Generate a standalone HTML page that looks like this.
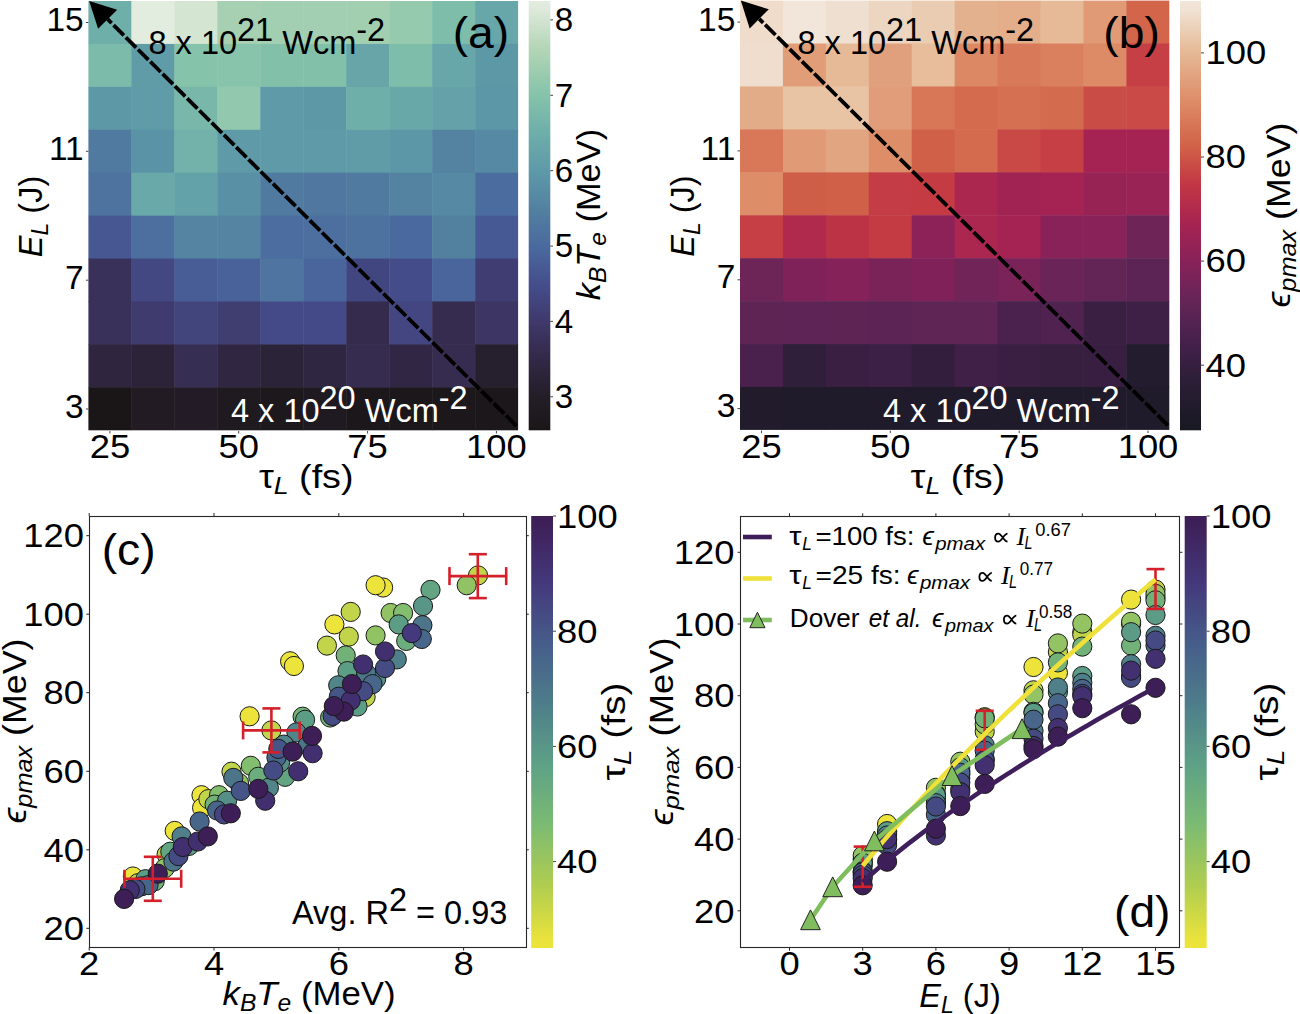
<!DOCTYPE html>
<html><head><meta charset="utf-8"><style>
html,body{margin:0;padding:0;background:#fff;}
svg{display:block;}
text{font-family:"Liberation Sans",sans-serif;}
</style></head><body>
<svg width="1300" height="1014" viewBox="0 0 1300 1014">
<rect width="1300" height="1014" fill="#fff"/>
<rect x="88.40" y="1.00" width="43.47" height="43.43" fill="#6fafaa"/>
<rect x="131.37" y="1.00" width="43.47" height="43.43" fill="#e2ecdf"/>
<rect x="174.34" y="1.00" width="43.47" height="43.43" fill="#d4e5d2"/>
<rect x="217.31" y="1.00" width="43.47" height="43.43" fill="#a7d0b2"/>
<rect x="260.28" y="1.00" width="43.47" height="43.43" fill="#a2cfb1"/>
<rect x="303.25" y="1.00" width="43.47" height="43.43" fill="#a2cfb1"/>
<rect x="346.22" y="1.00" width="43.47" height="43.43" fill="#a3cfb1"/>
<rect x="389.19" y="1.00" width="43.47" height="43.43" fill="#96caae"/>
<rect x="432.16" y="1.00" width="43.47" height="43.43" fill="#7ebdaa"/>
<rect x="475.13" y="1.00" width="42.97" height="43.43" fill="#67a6a9"/>
<rect x="88.40" y="43.93" width="43.47" height="43.43" fill="#7cbbaa"/>
<rect x="131.37" y="43.93" width="43.47" height="43.43" fill="#5f9ca8"/>
<rect x="174.34" y="43.93" width="43.47" height="43.43" fill="#85c3aa"/>
<rect x="217.31" y="43.93" width="43.47" height="43.43" fill="#88c4ab"/>
<rect x="260.28" y="43.93" width="43.47" height="43.43" fill="#82c0aa"/>
<rect x="303.25" y="43.93" width="43.47" height="43.43" fill="#82c0aa"/>
<rect x="346.22" y="43.93" width="43.47" height="43.43" fill="#67a5a9"/>
<rect x="389.19" y="43.93" width="43.47" height="43.43" fill="#7ebdaa"/>
<rect x="432.16" y="43.93" width="43.47" height="43.43" fill="#68a7a9"/>
<rect x="475.13" y="43.93" width="42.97" height="43.43" fill="#5d98a7"/>
<rect x="88.40" y="86.86" width="43.47" height="43.43" fill="#5d98a7"/>
<rect x="131.37" y="86.86" width="43.47" height="43.43" fill="#5f9ca8"/>
<rect x="174.34" y="86.86" width="43.47" height="43.43" fill="#78b7aa"/>
<rect x="217.31" y="86.86" width="43.47" height="43.43" fill="#92c8ad"/>
<rect x="260.28" y="86.86" width="43.47" height="43.43" fill="#5e9aa8"/>
<rect x="303.25" y="86.86" width="43.47" height="43.43" fill="#5d98a7"/>
<rect x="346.22" y="86.86" width="43.47" height="43.43" fill="#6fafaa"/>
<rect x="389.19" y="86.86" width="43.47" height="43.43" fill="#69a8a9"/>
<rect x="432.16" y="86.86" width="43.47" height="43.43" fill="#64a1a9"/>
<rect x="475.13" y="86.86" width="42.97" height="43.43" fill="#5c97a7"/>
<rect x="88.40" y="129.79" width="43.47" height="43.43" fill="#507aa0"/>
<rect x="131.37" y="129.79" width="43.47" height="43.43" fill="#5b93a6"/>
<rect x="174.34" y="129.79" width="43.47" height="43.43" fill="#72b2aa"/>
<rect x="217.31" y="129.79" width="43.47" height="43.43" fill="#5e9aa8"/>
<rect x="260.28" y="129.79" width="43.47" height="43.43" fill="#5e9aa8"/>
<rect x="303.25" y="129.79" width="43.47" height="43.43" fill="#5e9aa8"/>
<rect x="346.22" y="129.79" width="43.47" height="43.43" fill="#5f9ca8"/>
<rect x="389.19" y="129.79" width="43.47" height="43.43" fill="#5c97a7"/>
<rect x="432.16" y="129.79" width="43.47" height="43.43" fill="#5383a1"/>
<rect x="475.13" y="129.79" width="42.97" height="43.43" fill="#5689a3"/>
<rect x="88.40" y="172.72" width="43.47" height="43.43" fill="#4e739f"/>
<rect x="131.37" y="172.72" width="43.47" height="43.43" fill="#6aa9a9"/>
<rect x="174.34" y="172.72" width="43.47" height="43.43" fill="#64a2a9"/>
<rect x="217.31" y="172.72" width="43.47" height="43.43" fill="#5a90a5"/>
<rect x="260.28" y="172.72" width="43.47" height="43.43" fill="#507aa0"/>
<rect x="303.25" y="172.72" width="43.47" height="43.43" fill="#4f77a0"/>
<rect x="346.22" y="172.72" width="43.47" height="43.43" fill="#507aa0"/>
<rect x="389.19" y="172.72" width="43.47" height="43.43" fill="#5383a1"/>
<rect x="432.16" y="172.72" width="43.47" height="43.43" fill="#5689a3"/>
<rect x="475.13" y="172.72" width="42.97" height="43.43" fill="#4b6c9f"/>
<rect x="88.40" y="215.65" width="43.47" height="43.43" fill="#465792"/>
<rect x="131.37" y="215.65" width="43.47" height="43.43" fill="#4c6f9f"/>
<rect x="174.34" y="215.65" width="43.47" height="43.43" fill="#5484a1"/>
<rect x="217.31" y="215.65" width="43.47" height="43.43" fill="#5484a1"/>
<rect x="260.28" y="215.65" width="43.47" height="43.43" fill="#4b6d9f"/>
<rect x="303.25" y="215.65" width="43.47" height="43.43" fill="#4c6f9f"/>
<rect x="346.22" y="215.65" width="43.47" height="43.43" fill="#4d729f"/>
<rect x="389.19" y="215.65" width="43.47" height="43.43" fill="#4a699f"/>
<rect x="432.16" y="215.65" width="43.47" height="43.43" fill="#5281a0"/>
<rect x="475.13" y="215.65" width="42.97" height="43.43" fill="#475994"/>
<rect x="88.40" y="258.58" width="43.47" height="43.43" fill="#393159"/>
<rect x="131.37" y="258.58" width="43.47" height="43.43" fill="#434883"/>
<rect x="174.34" y="258.58" width="43.47" height="43.43" fill="#485d96"/>
<rect x="217.31" y="258.58" width="43.47" height="43.43" fill="#49639a"/>
<rect x="260.28" y="258.58" width="43.47" height="43.43" fill="#4e749f"/>
<rect x="303.25" y="258.58" width="43.47" height="43.43" fill="#49659c"/>
<rect x="346.22" y="258.58" width="43.47" height="43.43" fill="#424680"/>
<rect x="389.19" y="258.58" width="43.47" height="43.43" fill="#444c8a"/>
<rect x="432.16" y="258.58" width="43.47" height="43.43" fill="#49659c"/>
<rect x="475.13" y="258.58" width="42.97" height="43.43" fill="#403d72"/>
<rect x="88.40" y="301.51" width="43.47" height="43.43" fill="#393159"/>
<rect x="131.37" y="301.51" width="43.47" height="43.43" fill="#403b6f"/>
<rect x="174.34" y="301.51" width="43.47" height="43.43" fill="#42447c"/>
<rect x="217.31" y="301.51" width="43.47" height="43.43" fill="#403d71"/>
<rect x="260.28" y="301.51" width="43.47" height="43.43" fill="#444a87"/>
<rect x="303.25" y="301.51" width="43.47" height="43.43" fill="#444a87"/>
<rect x="346.22" y="301.51" width="43.47" height="43.43" fill="#352b4d"/>
<rect x="389.19" y="301.51" width="43.47" height="43.43" fill="#434681"/>
<rect x="432.16" y="301.51" width="43.47" height="43.43" fill="#352c4f"/>
<rect x="475.13" y="301.51" width="42.97" height="43.43" fill="#3d3563"/>
<rect x="88.40" y="344.44" width="43.47" height="43.43" fill="#2f253f"/>
<rect x="131.37" y="344.44" width="43.47" height="43.43" fill="#2c2339"/>
<rect x="174.34" y="344.44" width="43.47" height="43.43" fill="#372e53"/>
<rect x="217.31" y="344.44" width="43.47" height="43.43" fill="#302641"/>
<rect x="260.28" y="344.44" width="43.47" height="43.43" fill="#2b2338"/>
<rect x="303.25" y="344.44" width="43.47" height="43.43" fill="#2f2641"/>
<rect x="346.22" y="344.44" width="43.47" height="43.43" fill="#352c4f"/>
<rect x="389.19" y="344.44" width="43.47" height="43.43" fill="#312744"/>
<rect x="432.16" y="344.44" width="43.47" height="43.43" fill="#352c4f"/>
<rect x="475.13" y="344.44" width="42.97" height="43.43" fill="#261f2d"/>
<rect x="88.40" y="387.37" width="43.47" height="42.93" fill="#1a1618"/>
<rect x="131.37" y="387.37" width="43.47" height="42.93" fill="#221b24"/>
<rect x="174.34" y="387.37" width="43.47" height="42.93" fill="#231c27"/>
<rect x="217.31" y="387.37" width="43.47" height="42.93" fill="#1f1920"/>
<rect x="260.28" y="387.37" width="43.47" height="42.93" fill="#1d181c"/>
<rect x="303.25" y="387.37" width="43.47" height="42.93" fill="#1f1a21"/>
<rect x="346.22" y="387.37" width="43.47" height="42.93" fill="#1c171b"/>
<rect x="389.19" y="387.37" width="43.47" height="42.93" fill="#1b171a"/>
<rect x="432.16" y="387.37" width="43.47" height="42.93" fill="#1b171a"/>
<rect x="475.13" y="387.37" width="42.97" height="42.93" fill="#1b171a"/>
<rect x="740.00" y="0.60" width="43.43" height="43.43" fill="#efdccb"/>
<rect x="782.93" y="0.60" width="43.43" height="43.43" fill="#f2e5d9"/>
<rect x="825.86" y="0.60" width="43.43" height="43.43" fill="#efdfd0"/>
<rect x="868.79" y="0.60" width="43.43" height="43.43" fill="#edd6c1"/>
<rect x="911.72" y="0.60" width="43.43" height="43.43" fill="#eaccb2"/>
<rect x="954.65" y="0.60" width="43.43" height="43.43" fill="#e4b18e"/>
<rect x="997.58" y="0.60" width="43.43" height="43.43" fill="#e4ae8a"/>
<rect x="1040.51" y="0.60" width="43.43" height="43.43" fill="#e6ba97"/>
<rect x="1083.44" y="0.60" width="43.43" height="43.43" fill="#e09a76"/>
<rect x="1126.37" y="0.60" width="42.93" height="43.43" fill="#d2654a"/>
<rect x="740.00" y="43.53" width="43.43" height="43.43" fill="#efdece"/>
<rect x="782.93" y="43.53" width="43.43" height="43.43" fill="#e19c78"/>
<rect x="825.86" y="43.53" width="43.43" height="43.43" fill="#e6ba97"/>
<rect x="868.79" y="43.53" width="43.43" height="43.43" fill="#e1a07d"/>
<rect x="911.72" y="43.53" width="43.43" height="43.43" fill="#e7bd9b"/>
<rect x="954.65" y="43.53" width="43.43" height="43.43" fill="#dc8865"/>
<rect x="997.58" y="43.53" width="43.43" height="43.43" fill="#d87a5a"/>
<rect x="1040.51" y="43.53" width="43.43" height="43.43" fill="#da805f"/>
<rect x="1083.44" y="43.53" width="43.43" height="43.43" fill="#dd8a67"/>
<rect x="1126.37" y="43.53" width="42.93" height="43.43" fill="#c53f45"/>
<rect x="740.00" y="86.46" width="43.43" height="43.43" fill="#e3ac88"/>
<rect x="782.93" y="86.46" width="43.43" height="43.43" fill="#e8c4a5"/>
<rect x="825.86" y="86.46" width="43.43" height="43.43" fill="#e8c4a5"/>
<rect x="868.79" y="86.46" width="43.43" height="43.43" fill="#e19d7a"/>
<rect x="911.72" y="86.46" width="43.43" height="43.43" fill="#d77758"/>
<rect x="954.65" y="86.46" width="43.43" height="43.43" fill="#d46b4e"/>
<rect x="997.58" y="86.46" width="43.43" height="43.43" fill="#d57052"/>
<rect x="1040.51" y="86.46" width="43.43" height="43.43" fill="#d36b4e"/>
<rect x="1083.44" y="86.46" width="43.43" height="43.43" fill="#c94c46"/>
<rect x="1126.37" y="86.46" width="42.93" height="43.43" fill="#c94a46"/>
<rect x="740.00" y="129.39" width="43.43" height="43.43" fill="#d87859"/>
<rect x="782.93" y="129.39" width="43.43" height="43.43" fill="#e09a76"/>
<rect x="825.86" y="129.39" width="43.43" height="43.43" fill="#e2a582"/>
<rect x="868.79" y="129.39" width="43.43" height="43.43" fill="#de8d69"/>
<rect x="911.72" y="129.39" width="43.43" height="43.43" fill="#d06048"/>
<rect x="954.65" y="129.39" width="43.43" height="43.43" fill="#d46b4e"/>
<rect x="997.58" y="129.39" width="43.43" height="43.43" fill="#c84946"/>
<rect x="1040.51" y="129.39" width="43.43" height="43.43" fill="#c53f45"/>
<rect x="1083.44" y="129.39" width="43.43" height="43.43" fill="#a52352"/>
<rect x="1126.37" y="129.39" width="42.93" height="43.43" fill="#a52352"/>
<rect x="740.00" y="172.32" width="43.43" height="43.43" fill="#de8d69"/>
<rect x="782.93" y="172.32" width="43.43" height="43.43" fill="#cf5e48"/>
<rect x="825.86" y="172.32" width="43.43" height="43.43" fill="#d06048"/>
<rect x="868.79" y="172.32" width="43.43" height="43.43" fill="#c43c45"/>
<rect x="911.72" y="172.32" width="43.43" height="43.43" fill="#c43b44"/>
<rect x="954.65" y="172.32" width="43.43" height="43.43" fill="#ab274f"/>
<rect x="997.58" y="172.32" width="43.43" height="43.43" fill="#a02353"/>
<rect x="1040.51" y="172.32" width="43.43" height="43.43" fill="#a52352"/>
<rect x="1083.44" y="172.32" width="43.43" height="43.43" fill="#972355"/>
<rect x="1126.37" y="172.32" width="42.93" height="43.43" fill="#992355"/>
<rect x="740.00" y="215.25" width="43.43" height="43.43" fill="#c53f45"/>
<rect x="782.93" y="215.25" width="43.43" height="43.43" fill="#b02a4d"/>
<rect x="825.86" y="215.25" width="43.43" height="43.43" fill="#bd3346"/>
<rect x="868.79" y="215.25" width="43.43" height="43.43" fill="#c43b44"/>
<rect x="911.72" y="215.25" width="43.43" height="43.43" fill="#8c2258"/>
<rect x="954.65" y="215.25" width="43.43" height="43.43" fill="#ab274f"/>
<rect x="997.58" y="215.25" width="43.43" height="43.43" fill="#a52352"/>
<rect x="1040.51" y="215.25" width="43.43" height="43.43" fill="#892259"/>
<rect x="1083.44" y="215.25" width="43.43" height="43.43" fill="#892259"/>
<rect x="1126.37" y="215.25" width="42.93" height="43.43" fill="#6f2458"/>
<rect x="740.00" y="258.18" width="43.43" height="43.43" fill="#6d2457"/>
<rect x="782.93" y="258.18" width="43.43" height="43.43" fill="#7f2259"/>
<rect x="825.86" y="258.18" width="43.43" height="43.43" fill="#86225a"/>
<rect x="868.79" y="258.18" width="43.43" height="43.43" fill="#7a2359"/>
<rect x="911.72" y="258.18" width="43.43" height="43.43" fill="#802259"/>
<rect x="954.65" y="258.18" width="43.43" height="43.43" fill="#702458"/>
<rect x="997.58" y="258.18" width="43.43" height="43.43" fill="#7a2359"/>
<rect x="1040.51" y="258.18" width="43.43" height="43.43" fill="#6b2457"/>
<rect x="1083.44" y="258.18" width="43.43" height="43.43" fill="#632556"/>
<rect x="1126.37" y="258.18" width="42.93" height="43.43" fill="#5b2454"/>
<rect x="740.00" y="301.11" width="43.43" height="43.43" fill="#5d2454"/>
<rect x="782.93" y="301.11" width="43.43" height="43.43" fill="#5e2455"/>
<rect x="825.86" y="301.11" width="43.43" height="43.43" fill="#5d2454"/>
<rect x="868.79" y="301.11" width="43.43" height="43.43" fill="#5b2454"/>
<rect x="911.72" y="301.11" width="43.43" height="43.43" fill="#5f2555"/>
<rect x="954.65" y="301.11" width="43.43" height="43.43" fill="#5f2555"/>
<rect x="997.58" y="301.11" width="43.43" height="43.43" fill="#4b214d"/>
<rect x="1040.51" y="301.11" width="43.43" height="43.43" fill="#4f224f"/>
<rect x="1083.44" y="301.11" width="43.43" height="43.43" fill="#3b1f43"/>
<rect x="1126.37" y="301.11" width="42.93" height="43.43" fill="#3e2046"/>
<rect x="740.00" y="344.04" width="43.43" height="43.43" fill="#4a214d"/>
<rect x="782.93" y="344.04" width="43.43" height="43.43" fill="#301f3a"/>
<rect x="825.86" y="344.04" width="43.43" height="43.43" fill="#3b1f43"/>
<rect x="868.79" y="344.04" width="43.43" height="43.43" fill="#3d2045"/>
<rect x="911.72" y="344.04" width="43.43" height="43.43" fill="#331f3d"/>
<rect x="954.65" y="344.04" width="43.43" height="43.43" fill="#412048"/>
<rect x="997.58" y="344.04" width="43.43" height="43.43" fill="#3b1f43"/>
<rect x="1040.51" y="344.04" width="43.43" height="43.43" fill="#361f3f"/>
<rect x="1083.44" y="344.04" width="43.43" height="43.43" fill="#381f41"/>
<rect x="1126.37" y="344.04" width="42.93" height="43.43" fill="#231c2e"/>
<rect x="740.00" y="386.97" width="43.43" height="42.93" fill="#211b2c"/>
<rect x="782.93" y="386.97" width="43.43" height="42.93" fill="#201b2b"/>
<rect x="825.86" y="386.97" width="43.43" height="42.93" fill="#201b2b"/>
<rect x="868.79" y="386.97" width="43.43" height="42.93" fill="#201b2b"/>
<rect x="911.72" y="386.97" width="43.43" height="42.93" fill="#201b2b"/>
<rect x="954.65" y="386.97" width="43.43" height="42.93" fill="#201b2b"/>
<rect x="997.58" y="386.97" width="43.43" height="42.93" fill="#201b2b"/>
<rect x="1040.51" y="386.97" width="43.43" height="42.93" fill="#201b2b"/>
<rect x="1083.44" y="386.97" width="43.43" height="42.93" fill="#201b2b"/>
<rect x="1126.37" y="386.97" width="42.93" height="42.93" fill="#201b2b"/>
<defs><linearGradient id="gm" x1="0" y1="0" x2="0" y2="1"><stop offset="0.0000" stop-color="#e2ecdf"/><stop offset="0.0163" stop-color="#dfeadc"/><stop offset="0.1141" stop-color="#b2d5b5"/><stop offset="0.2190" stop-color="#85c3aa"/><stop offset="0.3075" stop-color="#6eaeaa"/><stop offset="0.3937" stop-color="#5e9aa8"/><stop offset="0.4868" stop-color="#5280a0"/><stop offset="0.5730" stop-color="#4a699f"/><stop offset="0.6662" stop-color="#444c8a"/><stop offset="0.7501" stop-color="#3f3869"/><stop offset="0.8362" stop-color="#322846"/><stop offset="0.9224" stop-color="#241d28"/><stop offset="0.9993" stop-color="#1a1618"/></linearGradient></defs>
<rect x="528.7" y="1.0" width="21.6" height="429.3" fill="url(#gm)"/>
<defs><linearGradient id="gr" x1="0" y1="0" x2="0" y2="1"><stop offset="0.0000" stop-color="#f2e6da"/><stop offset="0.0212" stop-color="#f0e2d4"/><stop offset="0.1143" stop-color="#e6bb98"/><stop offset="0.2308" stop-color="#de8d69"/><stop offset="0.3356" stop-color="#d16348"/><stop offset="0.4287" stop-color="#c23644"/><stop offset="0.5219" stop-color="#a52352"/><stop offset="0.6150" stop-color="#85225a"/><stop offset="0.7082" stop-color="#612556"/><stop offset="0.8014" stop-color="#43204a"/><stop offset="0.8945" stop-color="#2a1e35"/><stop offset="0.9830" stop-color="#1a1925"/><stop offset="1.0000" stop-color="#181822"/></linearGradient></defs>
<rect x="1180.0" y="0.9" width="21.0" height="429.4" fill="url(#gr)"/>
<line x1="85.9" y1="22.5" x2="88.4" y2="22.5" stroke="#444" stroke-width="1"/>
<text transform="translate(83.7,31.1) scale(1.030,1)" font-size="32.5" text-anchor="end">15</text>
<line x1="85.9" y1="151.3" x2="88.4" y2="151.3" stroke="#444" stroke-width="1"/>
<text transform="translate(83.7,159.9) scale(1.030,1)" font-size="32.5" text-anchor="end">11</text>
<line x1="85.9" y1="280.2" x2="88.4" y2="280.2" stroke="#444" stroke-width="1"/>
<text transform="translate(83.7,288.8) scale(1.030,1)" font-size="32.5" text-anchor="end">7</text>
<line x1="85.9" y1="409.0" x2="88.4" y2="409.0" stroke="#444" stroke-width="1"/>
<text transform="translate(83.7,417.6) scale(1.030,1)" font-size="32.5" text-anchor="end">3</text>
<line x1="109.9" y1="431.0" x2="109.9" y2="433.5" stroke="#444" stroke-width="1"/>
<text transform="translate(109.9,457.7) scale(1.120,1)" font-size="32.5" text-anchor="middle">25</text>
<line x1="238.7" y1="431.0" x2="238.7" y2="433.5" stroke="#444" stroke-width="1"/>
<text transform="translate(238.7,457.7) scale(1.120,1)" font-size="32.5" text-anchor="middle">50</text>
<line x1="367.6" y1="431.0" x2="367.6" y2="433.5" stroke="#444" stroke-width="1"/>
<text transform="translate(367.6,457.7) scale(1.120,1)" font-size="32.5" text-anchor="middle">75</text>
<line x1="496.4" y1="431.0" x2="496.4" y2="433.5" stroke="#444" stroke-width="1"/>
<text transform="translate(496.4,457.7) scale(1.120,1)" font-size="32.5" text-anchor="middle">100</text>
<text transform="translate(258.9,487.5) scale(1.160,1)" font-size="32.5">τ<tspan font-style="italic" font-size="23" dy="6">L</tspan><tspan dy="-6"> (fs)</tspan></text>
<text transform="translate(42.4,216.5) rotate(-90)" font-size="32.5" text-anchor="middle"><tspan font-style="italic">E</tspan><tspan font-style="italic" font-size="23" dy="6">L</tspan><tspan dy="-6"> (J)</tspan></text>
<line x1="737.5" y1="22.1" x2="740.0" y2="22.1" stroke="#444" stroke-width="1"/>
<text transform="translate(735.3,30.7) scale(1.030,1)" font-size="32.5" text-anchor="end">15</text>
<line x1="737.5" y1="150.9" x2="740.0" y2="150.9" stroke="#444" stroke-width="1"/>
<text transform="translate(735.3,159.5) scale(1.030,1)" font-size="32.5" text-anchor="end">11</text>
<line x1="737.5" y1="279.8" x2="740.0" y2="279.8" stroke="#444" stroke-width="1"/>
<text transform="translate(735.3,288.4) scale(1.030,1)" font-size="32.5" text-anchor="end">7</text>
<line x1="737.5" y1="408.6" x2="740.0" y2="408.6" stroke="#444" stroke-width="1"/>
<text transform="translate(735.3,417.2) scale(1.030,1)" font-size="32.5" text-anchor="end">3</text>
<line x1="761.5" y1="430.6" x2="761.5" y2="433.1" stroke="#444" stroke-width="1"/>
<text transform="translate(761.5,457.7) scale(1.120,1)" font-size="32.5" text-anchor="middle">25</text>
<line x1="890.3" y1="430.6" x2="890.3" y2="433.1" stroke="#444" stroke-width="1"/>
<text transform="translate(890.3,457.7) scale(1.120,1)" font-size="32.5" text-anchor="middle">50</text>
<line x1="1019.2" y1="430.6" x2="1019.2" y2="433.1" stroke="#444" stroke-width="1"/>
<text transform="translate(1019.2,457.7) scale(1.120,1)" font-size="32.5" text-anchor="middle">75</text>
<line x1="1148.0" y1="430.6" x2="1148.0" y2="433.1" stroke="#444" stroke-width="1"/>
<text transform="translate(1148.0,457.7) scale(1.120,1)" font-size="32.5" text-anchor="middle">100</text>
<text transform="translate(910.5,487.5) scale(1.160,1)" font-size="32.5">τ<tspan font-style="italic" font-size="23" dy="6">L</tspan><tspan dy="-6"> (fs)</tspan></text>
<text transform="translate(694.0,216.1) rotate(-90)" font-size="32.5" text-anchor="middle"><tspan font-style="italic">E</tspan><tspan font-style="italic" font-size="23" dy="6">L</tspan><tspan dy="-6"> (J)</tspan></text>
<line x1="550.3" y1="396.8" x2="553.0" y2="396.8" stroke="#444" stroke-width="1"/>
<text transform="translate(554.8,408.1) scale(1.020,1)" font-size="32.5">3</text>
<line x1="550.3" y1="321.4" x2="553.0" y2="321.4" stroke="#444" stroke-width="1"/>
<text transform="translate(554.8,332.7) scale(1.020,1)" font-size="32.5">4</text>
<line x1="550.3" y1="246.1" x2="553.0" y2="246.1" stroke="#444" stroke-width="1"/>
<text transform="translate(554.8,257.4) scale(1.020,1)" font-size="32.5">5</text>
<line x1="550.3" y1="170.7" x2="553.0" y2="170.7" stroke="#444" stroke-width="1"/>
<text transform="translate(554.8,182.0) scale(1.020,1)" font-size="32.5">6</text>
<line x1="550.3" y1="95.3" x2="553.0" y2="95.3" stroke="#444" stroke-width="1"/>
<text transform="translate(554.8,106.6) scale(1.020,1)" font-size="32.5">7</text>
<line x1="550.3" y1="19.9" x2="553.0" y2="19.9" stroke="#444" stroke-width="1"/>
<text transform="translate(554.8,31.2) scale(1.020,1)" font-size="32.5">8</text>
<line x1="1201.0" y1="365.2" x2="1204.0" y2="365.2" stroke="#444" stroke-width="1"/>
<text transform="translate(1205.5,376.5) scale(1.120,1)" font-size="32.5">40</text>
<line x1="1201.0" y1="261.1" x2="1204.0" y2="261.1" stroke="#444" stroke-width="1"/>
<text transform="translate(1205.5,272.4) scale(1.120,1)" font-size="32.5">60</text>
<line x1="1201.0" y1="157.0" x2="1204.0" y2="157.0" stroke="#444" stroke-width="1"/>
<text transform="translate(1205.5,168.3) scale(1.120,1)" font-size="32.5">80</text>
<line x1="1201.0" y1="52.9" x2="1204.0" y2="52.9" stroke="#444" stroke-width="1"/>
<text transform="translate(1205.5,64.2) scale(1.120,1)" font-size="32.5">100</text>
<text transform="translate(600.0,214.5) rotate(-90) scale(1.060,1)" font-size="32.5" text-anchor="middle"><tspan font-style="italic">k</tspan><tspan font-style="italic" font-size="23" dy="6">B</tspan><tspan font-style="italic" dy="-6">T</tspan><tspan font-style="italic" font-size="23" dy="6">e</tspan><tspan dy="-6"> (MeV)</tspan></text>
<text transform="translate(1290.0,215.0) rotate(-90) scale(1.100,1)" font-size="32.5" text-anchor="middle"><tspan font-style="italic">ϵ</tspan><tspan font-style="italic" font-size="23" dy="6">pmax</tspan><tspan dy="-6"> (MeV)</tspan></text>
<text transform="translate(148.5,53.6)" font-size="32.5">8 x 10<tspan dy="-13">21</tspan><tspan dy="13"> Wcm</tspan><tspan dy="-13">-2</tspan></text>
<text transform="translate(231.0,421.9)" font-size="32.5" fill="#fff">4 x 10<tspan dy="-13">20</tspan><tspan dy="13"> Wcm</tspan><tspan dy="-13">-2</tspan></text>
<text transform="translate(797.5,53.6)" font-size="32.5">8 x 10<tspan dy="-13">21</tspan><tspan dy="13"> Wcm</tspan><tspan dy="-13">-2</tspan></text>
<text transform="translate(883.0,421.9)" font-size="32.5" fill="#fff">4 x 10<tspan dy="-13">20</tspan><tspan dy="13"> Wcm</tspan><tspan dy="-13">-2</tspan></text>
<text transform="translate(452.7,47.9) scale(1.050,1)" font-size="44">(a)</text>
<text transform="translate(1103.3,47.9) scale(1.050,1)" font-size="44">(b)</text>
<line x1="516.4" y1="425.8" x2="107.6" y2="19.2" stroke="#000" stroke-width="3.8" stroke-dasharray="14.6,2.7"/>
<polygon points="89.2,0.9 98.1,28.8 117.2,9.7" fill="#000"/>
<line x1="1168.0" y1="425.4" x2="759.2" y2="18.8" stroke="#000" stroke-width="3.8" stroke-dasharray="14.6,2.7"/>
<polygon points="740.8,0.5 749.7,28.4 768.8,9.3" fill="#000"/>
<rect x="89.5" y="516.5" width="437" height="431" fill="none" stroke="#262626" stroke-width="1.1"/>
<circle cx="132.9" cy="876.5" r="9.6" fill="#ece43a" stroke="#1a1a1a" stroke-width="1"/>
<circle cx="174.7" cy="830.9" r="9.6" fill="#ece43a" stroke="#1a1a1a" stroke-width="1"/>
<circle cx="201.5" cy="795.2" r="9.6" fill="#ece43a" stroke="#1a1a1a" stroke-width="1"/>
<circle cx="202.1" cy="807.8" r="9.6" fill="#ece43a" stroke="#1a1a1a" stroke-width="1"/>
<circle cx="249.6" cy="716.3" r="9.6" fill="#ece43a" stroke="#1a1a1a" stroke-width="1"/>
<circle cx="334.4" cy="624.4" r="9.6" fill="#ece43a" stroke="#1a1a1a" stroke-width="1"/>
<circle cx="383.1" cy="587.5" r="9.6" fill="#ece43a" stroke="#1a1a1a" stroke-width="1"/>
<circle cx="375.6" cy="585.2" r="9.6" fill="#ece43a" stroke="#1a1a1a" stroke-width="1"/>
<circle cx="290.1" cy="661.3" r="9.6" fill="#ece43a" stroke="#1a1a1a" stroke-width="1"/>
<circle cx="293.9" cy="666.0" r="9.6" fill="#ece43a" stroke="#1a1a1a" stroke-width="1"/>
<circle cx="166.6" cy="854.5" r="9.6" fill="#c1d44a" stroke="#1a1a1a" stroke-width="1"/>
<circle cx="208.4" cy="799.1" r="9.6" fill="#c1d44a" stroke="#1a1a1a" stroke-width="1"/>
<circle cx="271.4" cy="730.4" r="9.6" fill="#c1d44a" stroke="#1a1a1a" stroke-width="1"/>
<circle cx="231.5" cy="771.7" r="9.6" fill="#c1d44a" stroke="#1a1a1a" stroke-width="1"/>
<circle cx="350.7" cy="611.9" r="9.6" fill="#c1d44a" stroke="#1a1a1a" stroke-width="1"/>
<circle cx="348.8" cy="636.6" r="9.6" fill="#c1d44a" stroke="#1a1a1a" stroke-width="1"/>
<circle cx="326.9" cy="645.6" r="9.6" fill="#c1d44a" stroke="#1a1a1a" stroke-width="1"/>
<circle cx="365.6" cy="697.1" r="9.6" fill="#c1d44a" stroke="#1a1a1a" stroke-width="1"/>
<circle cx="478.0" cy="575.4" r="9.6" fill="#c1d44a" stroke="#1a1a1a" stroke-width="1"/>
<circle cx="137.9" cy="883.2" r="9.6" fill="#c1d44a" stroke="#1a1a1a" stroke-width="1"/>
<circle cx="164.7" cy="868.2" r="9.6" fill="#91c364" stroke="#1a1a1a" stroke-width="1"/>
<circle cx="375.6" cy="635.4" r="9.6" fill="#91c364" stroke="#1a1a1a" stroke-width="1"/>
<circle cx="390.6" cy="613.0" r="9.6" fill="#91c364" stroke="#1a1a1a" stroke-width="1"/>
<circle cx="466.7" cy="585.2" r="9.6" fill="#91c364" stroke="#1a1a1a" stroke-width="1"/>
<circle cx="239.0" cy="783.0" r="9.6" fill="#91c364" stroke="#1a1a1a" stroke-width="1"/>
<circle cx="357.5" cy="677.0" r="9.6" fill="#91c364" stroke="#1a1a1a" stroke-width="1"/>
<circle cx="219.0" cy="795.2" r="9.6" fill="#83bd6e" stroke="#1a1a1a" stroke-width="1"/>
<circle cx="250.8" cy="765.8" r="9.6" fill="#83bd6e" stroke="#1a1a1a" stroke-width="1"/>
<circle cx="403.1" cy="613.0" r="9.6" fill="#83bd6e" stroke="#1a1a1a" stroke-width="1"/>
<circle cx="214.6" cy="804.6" r="9.6" fill="#72b279" stroke="#1a1a1a" stroke-width="1"/>
<circle cx="302.6" cy="716.7" r="9.6" fill="#72b279" stroke="#1a1a1a" stroke-width="1"/>
<circle cx="330.1" cy="717.5" r="9.6" fill="#72b279" stroke="#1a1a1a" stroke-width="1"/>
<circle cx="345.7" cy="655.4" r="9.6" fill="#72b279" stroke="#1a1a1a" stroke-width="1"/>
<circle cx="154.7" cy="881.2" r="9.6" fill="#72b279" stroke="#1a1a1a" stroke-width="1"/>
<circle cx="258.3" cy="776.8" r="9.6" fill="#6cad7d" stroke="#1a1a1a" stroke-width="1"/>
<circle cx="406.2" cy="640.9" r="9.6" fill="#6cad7d" stroke="#1a1a1a" stroke-width="1"/>
<circle cx="170.3" cy="851.7" r="9.6" fill="#63a583" stroke="#1a1a1a" stroke-width="1"/>
<circle cx="285.1" cy="776.8" r="9.6" fill="#63a583" stroke="#1a1a1a" stroke-width="1"/>
<circle cx="430.5" cy="589.9" r="9.6" fill="#63a583" stroke="#1a1a1a" stroke-width="1"/>
<circle cx="145.4" cy="879.2" r="9.6" fill="#5c9d86" stroke="#1a1a1a" stroke-width="1"/>
<circle cx="305.1" cy="719.8" r="9.6" fill="#5c9d86" stroke="#1a1a1a" stroke-width="1"/>
<circle cx="347.5" cy="671.1" r="9.6" fill="#5c9d86" stroke="#1a1a1a" stroke-width="1"/>
<circle cx="398.7" cy="624.4" r="9.6" fill="#5c9d86" stroke="#1a1a1a" stroke-width="1"/>
<circle cx="189.0" cy="845.9" r="9.6" fill="#5c9d86" stroke="#1a1a1a" stroke-width="1"/>
<circle cx="357.5" cy="706.5" r="9.6" fill="#5c9d86" stroke="#1a1a1a" stroke-width="1"/>
<circle cx="423.0" cy="606.0" r="9.6" fill="#599687" stroke="#1a1a1a" stroke-width="1"/>
<circle cx="227.1" cy="800.7" r="9.6" fill="#568f88" stroke="#1a1a1a" stroke-width="1"/>
<circle cx="280.1" cy="762.6" r="9.6" fill="#568f88" stroke="#1a1a1a" stroke-width="1"/>
<circle cx="376.2" cy="679.0" r="9.6" fill="#568f88" stroke="#1a1a1a" stroke-width="1"/>
<circle cx="296.4" cy="732.4" r="9.6" fill="#518589" stroke="#1a1a1a" stroke-width="1"/>
<circle cx="283.9" cy="744.6" r="9.6" fill="#518589" stroke="#1a1a1a" stroke-width="1"/>
<circle cx="268.9" cy="787.7" r="9.6" fill="#518589" stroke="#1a1a1a" stroke-width="1"/>
<circle cx="338.2" cy="685.3" r="9.6" fill="#518589" stroke="#1a1a1a" stroke-width="1"/>
<circle cx="141.6" cy="886.3" r="9.6" fill="#4e7f8a" stroke="#1a1a1a" stroke-width="1"/>
<circle cx="181.6" cy="836.4" r="9.6" fill="#4e7f8a" stroke="#1a1a1a" stroke-width="1"/>
<circle cx="396.8" cy="659.4" r="9.6" fill="#4e7f8a" stroke="#1a1a1a" stroke-width="1"/>
<circle cx="233.3" cy="777.9" r="9.6" fill="#4c758a" stroke="#1a1a1a" stroke-width="1"/>
<circle cx="366.3" cy="673.5" r="9.6" fill="#4c758a" stroke="#1a1a1a" stroke-width="1"/>
<circle cx="422.4" cy="625.2" r="9.6" fill="#4c758a" stroke="#1a1a1a" stroke-width="1"/>
<circle cx="173.4" cy="861.6" r="9.6" fill="#4c758a" stroke="#1a1a1a" stroke-width="1"/>
<circle cx="307.6" cy="745.7" r="9.6" fill="#4c758a" stroke="#1a1a1a" stroke-width="1"/>
<circle cx="199.6" cy="821.5" r="9.6" fill="#48668a" stroke="#1a1a1a" stroke-width="1"/>
<circle cx="372.5" cy="684.1" r="9.6" fill="#48668a" stroke="#1a1a1a" stroke-width="1"/>
<circle cx="421.8" cy="639.0" r="9.6" fill="#48668a" stroke="#1a1a1a" stroke-width="1"/>
<circle cx="148.5" cy="885.1" r="9.6" fill="#48668a" stroke="#1a1a1a" stroke-width="1"/>
<circle cx="217.1" cy="810.5" r="9.6" fill="#48668a" stroke="#1a1a1a" stroke-width="1"/>
<circle cx="276.4" cy="757.5" r="9.6" fill="#48668a" stroke="#1a1a1a" stroke-width="1"/>
<circle cx="240.8" cy="790.9" r="9.6" fill="#465587" stroke="#1a1a1a" stroke-width="1"/>
<circle cx="278.3" cy="748.9" r="9.6" fill="#465587" stroke="#1a1a1a" stroke-width="1"/>
<circle cx="338.8" cy="696.7" r="9.6" fill="#465587" stroke="#1a1a1a" stroke-width="1"/>
<circle cx="135.4" cy="889.0" r="9.6" fill="#454b83" stroke="#1a1a1a" stroke-width="1"/>
<circle cx="178.4" cy="856.1" r="9.6" fill="#454b83" stroke="#1a1a1a" stroke-width="1"/>
<circle cx="273.3" cy="770.5" r="9.6" fill="#454b83" stroke="#1a1a1a" stroke-width="1"/>
<circle cx="332.6" cy="715.9" r="9.6" fill="#454b83" stroke="#1a1a1a" stroke-width="1"/>
<circle cx="363.1" cy="691.2" r="9.6" fill="#454b83" stroke="#1a1a1a" stroke-width="1"/>
<circle cx="385.0" cy="668.0" r="9.6" fill="#454b83" stroke="#1a1a1a" stroke-width="1"/>
<circle cx="224.0" cy="814.4" r="9.6" fill="#454480" stroke="#1a1a1a" stroke-width="1"/>
<circle cx="411.8" cy="633.1" r="9.6" fill="#44397c" stroke="#1a1a1a" stroke-width="1"/>
<circle cx="129.8" cy="890.2" r="9.6" fill="#422f6f" stroke="#1a1a1a" stroke-width="1"/>
<circle cx="182.8" cy="847.0" r="9.6" fill="#422f6f" stroke="#1a1a1a" stroke-width="1"/>
<circle cx="197.8" cy="841.5" r="9.6" fill="#422f6f" stroke="#1a1a1a" stroke-width="1"/>
<circle cx="312.6" cy="753.2" r="9.6" fill="#422f6f" stroke="#1a1a1a" stroke-width="1"/>
<circle cx="298.2" cy="771.3" r="9.6" fill="#422f6f" stroke="#1a1a1a" stroke-width="1"/>
<circle cx="265.2" cy="800.7" r="9.6" fill="#422f6f" stroke="#1a1a1a" stroke-width="1"/>
<circle cx="350.7" cy="700.6" r="9.6" fill="#422f6f" stroke="#1a1a1a" stroke-width="1"/>
<circle cx="363.1" cy="664.5" r="9.6" fill="#422f6f" stroke="#1a1a1a" stroke-width="1"/>
<circle cx="385.0" cy="651.5" r="9.6" fill="#422f6f" stroke="#1a1a1a" stroke-width="1"/>
<circle cx="124.1" cy="898.9" r="9.6" fill="#3d1e57" stroke="#1a1a1a" stroke-width="1"/>
<circle cx="157.8" cy="873.7" r="9.6" fill="#3d1e57" stroke="#1a1a1a" stroke-width="1"/>
<circle cx="207.8" cy="836.4" r="9.6" fill="#3d1e57" stroke="#1a1a1a" stroke-width="1"/>
<circle cx="230.8" cy="813.3" r="9.6" fill="#3d1e57" stroke="#1a1a1a" stroke-width="1"/>
<circle cx="312.0" cy="735.9" r="9.6" fill="#3d1e57" stroke="#1a1a1a" stroke-width="1"/>
<circle cx="292.6" cy="751.6" r="9.6" fill="#3d1e57" stroke="#1a1a1a" stroke-width="1"/>
<circle cx="258.3" cy="788.9" r="9.6" fill="#3d1e57" stroke="#1a1a1a" stroke-width="1"/>
<circle cx="343.8" cy="711.6" r="9.6" fill="#3d1e57" stroke="#1a1a1a" stroke-width="1"/>
<circle cx="333.8" cy="706.1" r="9.6" fill="#3d1e57" stroke="#1a1a1a" stroke-width="1"/>
<circle cx="351.9" cy="684.1" r="9.6" fill="#3d1e57" stroke="#1a1a1a" stroke-width="1"/>
<line x1="449.5" y1="576.1" x2="506.2" y2="576.1" stroke="#d4202a" stroke-width="2.6"/>
<line x1="449.5" y1="567.1" x2="449.5" y2="585.1" stroke="#d4202a" stroke-width="2.6"/>
<line x1="506.2" y1="567.1" x2="506.2" y2="585.1" stroke="#d4202a" stroke-width="2.6"/>
<line x1="477.8" y1="554.2" x2="477.8" y2="598.1" stroke="#d4202a" stroke-width="2.6"/>
<line x1="468.8" y1="554.2" x2="486.8" y2="554.2" stroke="#d4202a" stroke-width="2.6"/>
<line x1="468.8" y1="598.1" x2="486.8" y2="598.1" stroke="#d4202a" stroke-width="2.6"/>
<line x1="243.1" y1="730.4" x2="299.7" y2="730.4" stroke="#d4202a" stroke-width="2.6"/>
<line x1="243.1" y1="721.4" x2="243.1" y2="739.4" stroke="#d4202a" stroke-width="2.6"/>
<line x1="299.7" y1="721.4" x2="299.7" y2="739.4" stroke="#d4202a" stroke-width="2.6"/>
<line x1="271.4" y1="708.4" x2="271.4" y2="752.4" stroke="#d4202a" stroke-width="2.6"/>
<line x1="262.4" y1="708.4" x2="280.4" y2="708.4" stroke="#d4202a" stroke-width="2.6"/>
<line x1="262.4" y1="752.4" x2="280.4" y2="752.4" stroke="#d4202a" stroke-width="2.6"/>
<line x1="124.5" y1="878.8" x2="181.2" y2="878.8" stroke="#d4202a" stroke-width="2.6"/>
<line x1="124.5" y1="869.8" x2="124.5" y2="887.8" stroke="#d4202a" stroke-width="2.6"/>
<line x1="181.2" y1="869.8" x2="181.2" y2="887.8" stroke="#d4202a" stroke-width="2.6"/>
<line x1="152.8" y1="856.8" x2="152.8" y2="900.8" stroke="#d4202a" stroke-width="2.6"/>
<line x1="143.8" y1="856.8" x2="161.8" y2="856.8" stroke="#d4202a" stroke-width="2.6"/>
<line x1="143.8" y1="900.8" x2="161.8" y2="900.8" stroke="#d4202a" stroke-width="2.6"/>
<line x1="89.2" y1="947.6" x2="89.2" y2="950.5" stroke="#262626" stroke-width="1"/>
<line x1="89.2" y1="516.0" x2="89.2" y2="513.0" stroke="#262626" stroke-width="1"/>
<text transform="translate(89.2,975.0) scale(1.120,1)" font-size="32.5" text-anchor="middle">2</text>
<line x1="214.0" y1="947.6" x2="214.0" y2="950.5" stroke="#262626" stroke-width="1"/>
<line x1="214.0" y1="516.0" x2="214.0" y2="513.0" stroke="#262626" stroke-width="1"/>
<text transform="translate(214.0,975.0) scale(1.120,1)" font-size="32.5" text-anchor="middle">4</text>
<line x1="338.8" y1="947.6" x2="338.8" y2="950.5" stroke="#262626" stroke-width="1"/>
<line x1="338.8" y1="516.0" x2="338.8" y2="513.0" stroke="#262626" stroke-width="1"/>
<text transform="translate(338.8,975.0) scale(1.120,1)" font-size="32.5" text-anchor="middle">6</text>
<line x1="463.6" y1="947.6" x2="463.6" y2="950.5" stroke="#262626" stroke-width="1"/>
<line x1="463.6" y1="516.0" x2="463.6" y2="513.0" stroke="#262626" stroke-width="1"/>
<text transform="translate(463.6,975.0) scale(1.120,1)" font-size="32.5" text-anchor="middle">8</text>
<line x1="89.2" y1="928.3" x2="86.3" y2="928.3" stroke="#262626" stroke-width="1"/>
<line x1="526.0" y1="928.3" x2="528.8" y2="928.3" stroke="#262626" stroke-width="1"/>
<text transform="translate(84.0,940.0) scale(1.120,1)" font-size="32.5" text-anchor="end">20</text>
<line x1="89.2" y1="849.8" x2="86.3" y2="849.8" stroke="#262626" stroke-width="1"/>
<line x1="526.0" y1="849.8" x2="528.8" y2="849.8" stroke="#262626" stroke-width="1"/>
<text transform="translate(84.0,861.5) scale(1.120,1)" font-size="32.5" text-anchor="end">40</text>
<line x1="89.2" y1="771.3" x2="86.3" y2="771.3" stroke="#262626" stroke-width="1"/>
<line x1="526.0" y1="771.3" x2="528.8" y2="771.3" stroke="#262626" stroke-width="1"/>
<text transform="translate(84.0,783.0) scale(1.120,1)" font-size="32.5" text-anchor="end">60</text>
<line x1="89.2" y1="692.7" x2="86.3" y2="692.7" stroke="#262626" stroke-width="1"/>
<line x1="526.0" y1="692.7" x2="528.8" y2="692.7" stroke="#262626" stroke-width="1"/>
<text transform="translate(84.0,704.4) scale(1.120,1)" font-size="32.5" text-anchor="end">80</text>
<line x1="89.2" y1="614.2" x2="86.3" y2="614.2" stroke="#262626" stroke-width="1"/>
<line x1="526.0" y1="614.2" x2="528.8" y2="614.2" stroke="#262626" stroke-width="1"/>
<text transform="translate(84.0,625.9) scale(1.120,1)" font-size="32.5" text-anchor="end">100</text>
<line x1="89.2" y1="535.7" x2="86.3" y2="535.7" stroke="#262626" stroke-width="1"/>
<line x1="526.0" y1="535.7" x2="528.8" y2="535.7" stroke="#262626" stroke-width="1"/>
<text transform="translate(84.0,547.4) scale(1.120,1)" font-size="32.5" text-anchor="end">120</text>
<text transform="translate(101.7,564.6) scale(1.050,1)" font-size="44">(c)</text>
<text transform="translate(292.0,924.0)" font-size="32.5">Avg. R<tspan dy="-13">2</tspan><tspan dy="13"> = 0.93</tspan></text>
<text transform="translate(26.0,731.0) rotate(-90) scale(1.100,1)" font-size="32.5" text-anchor="middle"><tspan font-style="italic">ϵ</tspan><tspan font-style="italic" font-size="23" dy="6">pmax</tspan><tspan dy="-6"> (MeV)</tspan></text>
<text transform="translate(309.0,1005.0) scale(1.070,1)" font-size="32.5" text-anchor="middle"><tspan font-style="italic">k</tspan><tspan font-style="italic" font-size="23" dy="6">B</tspan><tspan font-style="italic" dy="-6">T</tspan><tspan font-style="italic" font-size="23" dy="6">e</tspan><tspan dy="-6"> (MeV)</tspan></text>
<defs><linearGradient id="gv531" x1="0" y1="0" x2="0" y2="1"><stop offset="0.0000" stop-color="#3d1e57"/><stop offset="0.0208" stop-color="#3e2059"/><stop offset="0.1597" stop-color="#44397c"/><stop offset="0.2986" stop-color="#465e8a"/><stop offset="0.4375" stop-color="#4e7e8a"/><stop offset="0.5764" stop-color="#5ea186"/><stop offset="0.7153" stop-color="#7cbb72"/><stop offset="0.8542" stop-color="#afcd50"/><stop offset="0.9815" stop-color="#eae33c"/><stop offset="1.0000" stop-color="#ece43a"/></linearGradient></defs>
<rect x="531.2" y="516" width="21.8" height="432" fill="url(#gv531)"/>
<line x1="553.0" y1="861.6" x2="556.0" y2="861.6" stroke="#444" stroke-width="1"/>
<text transform="translate(557.0,873.1) scale(1.120,1)" font-size="32.5">40</text>
<line x1="553.0" y1="746.4" x2="556.0" y2="746.4" stroke="#444" stroke-width="1"/>
<text transform="translate(557.0,757.9) scale(1.120,1)" font-size="32.5">60</text>
<line x1="553.0" y1="631.2" x2="556.0" y2="631.2" stroke="#444" stroke-width="1"/>
<text transform="translate(557.0,642.7) scale(1.120,1)" font-size="32.5">80</text>
<line x1="553.0" y1="516.0" x2="556.0" y2="516.0" stroke="#444" stroke-width="1"/>
<text transform="translate(557.0,527.5) scale(1.120,1)" font-size="32.5">100</text>
<text transform="translate(624.5,731.5) rotate(-90) scale(1.200,1)" font-size="32.5" text-anchor="middle">τ<tspan font-style="italic" font-size="23" dy="6">L</tspan><tspan dy="-6"> (fs)</tspan></text>
<defs><linearGradient id="gv1184" x1="0" y1="0" x2="0" y2="1"><stop offset="0.0000" stop-color="#3d1e57"/><stop offset="0.0208" stop-color="#3e2059"/><stop offset="0.1597" stop-color="#44397c"/><stop offset="0.2986" stop-color="#465e8a"/><stop offset="0.4375" stop-color="#4e7e8a"/><stop offset="0.5764" stop-color="#5ea186"/><stop offset="0.7153" stop-color="#7cbb72"/><stop offset="0.8542" stop-color="#afcd50"/><stop offset="0.9815" stop-color="#eae33c"/><stop offset="1.0000" stop-color="#ece43a"/></linearGradient></defs>
<rect x="1184.7" y="516" width="22.0" height="432" fill="url(#gv1184)"/>
<line x1="1206.7" y1="861.6" x2="1209.7" y2="861.6" stroke="#444" stroke-width="1"/>
<text transform="translate(1210.7,873.1) scale(1.120,1)" font-size="32.5">40</text>
<line x1="1206.7" y1="746.4" x2="1209.7" y2="746.4" stroke="#444" stroke-width="1"/>
<text transform="translate(1210.7,757.9) scale(1.120,1)" font-size="32.5">60</text>
<line x1="1206.7" y1="631.2" x2="1209.7" y2="631.2" stroke="#444" stroke-width="1"/>
<text transform="translate(1210.7,642.7) scale(1.120,1)" font-size="32.5">80</text>
<line x1="1206.7" y1="516.0" x2="1209.7" y2="516.0" stroke="#444" stroke-width="1"/>
<text transform="translate(1210.7,527.5) scale(1.120,1)" font-size="32.5">100</text>
<text transform="translate(1278.2,731.5) rotate(-90) scale(1.200,1)" font-size="32.5" text-anchor="middle">τ<tspan font-style="italic" font-size="23" dy="6">L</tspan><tspan dy="-6"> (fs)</tspan></text>
<rect x="740.5" y="516.5" width="439" height="431" fill="none" stroke="#262626" stroke-width="1.1"/>
<line x1="789.5" y1="947.8" x2="789.5" y2="950.7" stroke="#262626" stroke-width="1"/>
<line x1="789.5" y1="516.2" x2="789.5" y2="513.3" stroke="#262626" stroke-width="1"/>
<text transform="translate(789.5,975.0) scale(1.120,1)" font-size="32.5" text-anchor="middle">0</text>
<line x1="862.7" y1="947.8" x2="862.7" y2="950.7" stroke="#262626" stroke-width="1"/>
<line x1="862.7" y1="516.2" x2="862.7" y2="513.3" stroke="#262626" stroke-width="1"/>
<text transform="translate(862.7,975.0) scale(1.120,1)" font-size="32.5" text-anchor="middle">3</text>
<line x1="935.9" y1="947.8" x2="935.9" y2="950.7" stroke="#262626" stroke-width="1"/>
<line x1="935.9" y1="516.2" x2="935.9" y2="513.3" stroke="#262626" stroke-width="1"/>
<text transform="translate(935.9,975.0) scale(1.120,1)" font-size="32.5" text-anchor="middle">6</text>
<line x1="1009.1" y1="947.8" x2="1009.1" y2="950.7" stroke="#262626" stroke-width="1"/>
<line x1="1009.1" y1="516.2" x2="1009.1" y2="513.3" stroke="#262626" stroke-width="1"/>
<text transform="translate(1009.1,975.0) scale(1.120,1)" font-size="32.5" text-anchor="middle">9</text>
<line x1="1082.3" y1="947.8" x2="1082.3" y2="950.7" stroke="#262626" stroke-width="1"/>
<line x1="1082.3" y1="516.2" x2="1082.3" y2="513.3" stroke="#262626" stroke-width="1"/>
<text transform="translate(1082.3,975.0) scale(1.120,1)" font-size="32.5" text-anchor="middle">12</text>
<line x1="1155.5" y1="947.8" x2="1155.5" y2="950.7" stroke="#262626" stroke-width="1"/>
<line x1="1155.5" y1="516.2" x2="1155.5" y2="513.3" stroke="#262626" stroke-width="1"/>
<text transform="translate(1155.5,975.0) scale(1.120,1)" font-size="32.5" text-anchor="middle">15</text>
<line x1="740.5" y1="910.8" x2="737.6" y2="910.8" stroke="#262626" stroke-width="1"/>
<line x1="1179.5" y1="910.8" x2="1182.4" y2="910.8" stroke="#262626" stroke-width="1"/>
<text transform="translate(734.5,922.5) scale(1.120,1)" font-size="32.5" text-anchor="end">20</text>
<line x1="740.5" y1="839.1" x2="737.6" y2="839.1" stroke="#262626" stroke-width="1"/>
<line x1="1179.5" y1="839.1" x2="1182.4" y2="839.1" stroke="#262626" stroke-width="1"/>
<text transform="translate(734.5,850.8) scale(1.120,1)" font-size="32.5" text-anchor="end">40</text>
<line x1="740.5" y1="767.4" x2="737.6" y2="767.4" stroke="#262626" stroke-width="1"/>
<line x1="1179.5" y1="767.4" x2="1182.4" y2="767.4" stroke="#262626" stroke-width="1"/>
<text transform="translate(734.5,779.1) scale(1.120,1)" font-size="32.5" text-anchor="end">60</text>
<line x1="740.5" y1="695.7" x2="737.6" y2="695.7" stroke="#262626" stroke-width="1"/>
<line x1="1179.5" y1="695.7" x2="1182.4" y2="695.7" stroke="#262626" stroke-width="1"/>
<text transform="translate(734.5,707.4) scale(1.120,1)" font-size="32.5" text-anchor="end">80</text>
<line x1="740.5" y1="624.0" x2="737.6" y2="624.0" stroke="#262626" stroke-width="1"/>
<line x1="1179.5" y1="624.0" x2="1182.4" y2="624.0" stroke="#262626" stroke-width="1"/>
<text transform="translate(734.5,635.7) scale(1.120,1)" font-size="32.5" text-anchor="end">100</text>
<line x1="740.5" y1="552.3" x2="737.6" y2="552.3" stroke="#262626" stroke-width="1"/>
<line x1="1179.5" y1="552.3" x2="1182.4" y2="552.3" stroke="#262626" stroke-width="1"/>
<text transform="translate(734.5,564.0) scale(1.120,1)" font-size="32.5" text-anchor="end">120</text>
<circle cx="1155.5" cy="597.5" r="9.6" fill="#ece43a" stroke="#1a1a1a" stroke-width="1"/>
<circle cx="1131.1" cy="599.6" r="9.6" fill="#ece43a" stroke="#1a1a1a" stroke-width="1"/>
<circle cx="1082.3" cy="631.9" r="9.6" fill="#ece43a" stroke="#1a1a1a" stroke-width="1"/>
<circle cx="1057.9" cy="672.8" r="9.6" fill="#ece43a" stroke="#1a1a1a" stroke-width="1"/>
<circle cx="1033.5" cy="667.0" r="9.6" fill="#ece43a" stroke="#1a1a1a" stroke-width="1"/>
<circle cx="984.7" cy="717.2" r="9.6" fill="#ece43a" stroke="#1a1a1a" stroke-width="1"/>
<circle cx="960.3" cy="788.9" r="9.6" fill="#ece43a" stroke="#1a1a1a" stroke-width="1"/>
<circle cx="935.9" cy="800.7" r="9.6" fill="#ece43a" stroke="#1a1a1a" stroke-width="1"/>
<circle cx="887.1" cy="824.0" r="9.6" fill="#ece43a" stroke="#1a1a1a" stroke-width="1"/>
<circle cx="862.7" cy="859.2" r="9.6" fill="#ece43a" stroke="#1a1a1a" stroke-width="1"/>
<circle cx="1155.5" cy="589.6" r="9.6" fill="#bfd34b" stroke="#1a1a1a" stroke-width="1"/>
<circle cx="1131.1" cy="624.0" r="9.6" fill="#bfd34b" stroke="#1a1a1a" stroke-width="1"/>
<circle cx="1082.3" cy="634.8" r="9.6" fill="#bfd34b" stroke="#1a1a1a" stroke-width="1"/>
<circle cx="1057.9" cy="652.0" r="9.6" fill="#bfd34b" stroke="#1a1a1a" stroke-width="1"/>
<circle cx="1033.5" cy="690.3" r="9.6" fill="#bfd34b" stroke="#1a1a1a" stroke-width="1"/>
<circle cx="984.7" cy="731.5" r="9.6" fill="#bfd34b" stroke="#1a1a1a" stroke-width="1"/>
<circle cx="960.3" cy="774.6" r="9.6" fill="#bfd34b" stroke="#1a1a1a" stroke-width="1"/>
<circle cx="935.9" cy="799.7" r="9.6" fill="#bfd34b" stroke="#1a1a1a" stroke-width="1"/>
<circle cx="887.1" cy="839.1" r="9.6" fill="#bfd34b" stroke="#1a1a1a" stroke-width="1"/>
<circle cx="862.7" cy="862.4" r="9.6" fill="#bfd34b" stroke="#1a1a1a" stroke-width="1"/>
<circle cx="1155.5" cy="593.9" r="9.6" fill="#93c363" stroke="#1a1a1a" stroke-width="1"/>
<circle cx="1131.1" cy="621.8" r="9.6" fill="#93c363" stroke="#1a1a1a" stroke-width="1"/>
<circle cx="1082.3" cy="623.6" r="9.6" fill="#93c363" stroke="#1a1a1a" stroke-width="1"/>
<circle cx="1057.9" cy="643.4" r="9.6" fill="#93c363" stroke="#1a1a1a" stroke-width="1"/>
<circle cx="1033.5" cy="694.6" r="9.6" fill="#93c363" stroke="#1a1a1a" stroke-width="1"/>
<circle cx="984.7" cy="724.4" r="9.6" fill="#93c363" stroke="#1a1a1a" stroke-width="1"/>
<circle cx="960.3" cy="761.7" r="9.6" fill="#93c363" stroke="#1a1a1a" stroke-width="1"/>
<circle cx="935.9" cy="787.8" r="9.6" fill="#93c363" stroke="#1a1a1a" stroke-width="1"/>
<circle cx="887.1" cy="833.7" r="9.6" fill="#93c363" stroke="#1a1a1a" stroke-width="1"/>
<circle cx="862.7" cy="855.6" r="9.6" fill="#93c363" stroke="#1a1a1a" stroke-width="1"/>
<circle cx="1155.5" cy="600.3" r="9.6" fill="#72b279" stroke="#1a1a1a" stroke-width="1"/>
<circle cx="1131.1" cy="645.5" r="9.6" fill="#72b279" stroke="#1a1a1a" stroke-width="1"/>
<circle cx="1082.3" cy="646.6" r="9.6" fill="#72b279" stroke="#1a1a1a" stroke-width="1"/>
<circle cx="1057.9" cy="662.4" r="9.6" fill="#72b279" stroke="#1a1a1a" stroke-width="1"/>
<circle cx="1033.5" cy="711.8" r="9.6" fill="#72b279" stroke="#1a1a1a" stroke-width="1"/>
<circle cx="984.7" cy="718.3" r="9.6" fill="#72b279" stroke="#1a1a1a" stroke-width="1"/>
<circle cx="960.3" cy="771.0" r="9.6" fill="#72b279" stroke="#1a1a1a" stroke-width="1"/>
<circle cx="935.9" cy="794.3" r="9.6" fill="#72b279" stroke="#1a1a1a" stroke-width="1"/>
<circle cx="887.1" cy="831.9" r="9.6" fill="#72b279" stroke="#1a1a1a" stroke-width="1"/>
<circle cx="862.7" cy="866.0" r="9.6" fill="#72b279" stroke="#1a1a1a" stroke-width="1"/>
<circle cx="1155.5" cy="615.0" r="9.6" fill="#5c9c87" stroke="#1a1a1a" stroke-width="1"/>
<circle cx="1131.1" cy="632.2" r="9.6" fill="#5c9c87" stroke="#1a1a1a" stroke-width="1"/>
<circle cx="1082.3" cy="676.0" r="9.6" fill="#5c9c87" stroke="#1a1a1a" stroke-width="1"/>
<circle cx="1057.9" cy="692.1" r="9.6" fill="#5c9c87" stroke="#1a1a1a" stroke-width="1"/>
<circle cx="1033.5" cy="712.9" r="9.6" fill="#5c9c87" stroke="#1a1a1a" stroke-width="1"/>
<circle cx="984.7" cy="759.2" r="9.6" fill="#5c9c87" stroke="#1a1a1a" stroke-width="1"/>
<circle cx="960.3" cy="767.4" r="9.6" fill="#5c9c87" stroke="#1a1a1a" stroke-width="1"/>
<circle cx="935.9" cy="795.4" r="9.6" fill="#5c9c87" stroke="#1a1a1a" stroke-width="1"/>
<circle cx="887.1" cy="831.2" r="9.6" fill="#5c9c87" stroke="#1a1a1a" stroke-width="1"/>
<circle cx="862.7" cy="862.8" r="9.6" fill="#5c9c87" stroke="#1a1a1a" stroke-width="1"/>
<circle cx="1155.5" cy="635.8" r="9.6" fill="#4f808a" stroke="#1a1a1a" stroke-width="1"/>
<circle cx="1131.1" cy="664.2" r="9.6" fill="#4f808a" stroke="#1a1a1a" stroke-width="1"/>
<circle cx="1082.3" cy="682.8" r="9.6" fill="#4f808a" stroke="#1a1a1a" stroke-width="1"/>
<circle cx="1057.9" cy="687.5" r="9.6" fill="#4f808a" stroke="#1a1a1a" stroke-width="1"/>
<circle cx="1033.5" cy="730.8" r="9.6" fill="#4f808a" stroke="#1a1a1a" stroke-width="1"/>
<circle cx="984.7" cy="745.2" r="9.6" fill="#4f808a" stroke="#1a1a1a" stroke-width="1"/>
<circle cx="960.3" cy="778.2" r="9.6" fill="#4f808a" stroke="#1a1a1a" stroke-width="1"/>
<circle cx="935.9" cy="803.2" r="9.6" fill="#4f808a" stroke="#1a1a1a" stroke-width="1"/>
<circle cx="887.1" cy="835.5" r="9.6" fill="#4f808a" stroke="#1a1a1a" stroke-width="1"/>
<circle cx="862.7" cy="871.4" r="9.6" fill="#4f808a" stroke="#1a1a1a" stroke-width="1"/>
<circle cx="1155.5" cy="645.5" r="9.6" fill="#48668a" stroke="#1a1a1a" stroke-width="1"/>
<circle cx="1131.1" cy="676.0" r="9.6" fill="#48668a" stroke="#1a1a1a" stroke-width="1"/>
<circle cx="1082.3" cy="688.9" r="9.6" fill="#48668a" stroke="#1a1a1a" stroke-width="1"/>
<circle cx="1057.9" cy="703.2" r="9.6" fill="#48668a" stroke="#1a1a1a" stroke-width="1"/>
<circle cx="1033.5" cy="719.7" r="9.6" fill="#48668a" stroke="#1a1a1a" stroke-width="1"/>
<circle cx="984.7" cy="750.6" r="9.6" fill="#48668a" stroke="#1a1a1a" stroke-width="1"/>
<circle cx="960.3" cy="772.8" r="9.6" fill="#48668a" stroke="#1a1a1a" stroke-width="1"/>
<circle cx="935.9" cy="814.7" r="9.6" fill="#48668a" stroke="#1a1a1a" stroke-width="1"/>
<circle cx="887.1" cy="840.9" r="9.6" fill="#48668a" stroke="#1a1a1a" stroke-width="1"/>
<circle cx="862.7" cy="872.4" r="9.6" fill="#48668a" stroke="#1a1a1a" stroke-width="1"/>
<circle cx="1155.5" cy="640.5" r="9.6" fill="#454a82" stroke="#1a1a1a" stroke-width="1"/>
<circle cx="1131.1" cy="677.8" r="9.6" fill="#454a82" stroke="#1a1a1a" stroke-width="1"/>
<circle cx="1082.3" cy="693.9" r="9.6" fill="#454a82" stroke="#1a1a1a" stroke-width="1"/>
<circle cx="1057.9" cy="714.3" r="9.6" fill="#454a82" stroke="#1a1a1a" stroke-width="1"/>
<circle cx="1033.5" cy="738.7" r="9.6" fill="#454a82" stroke="#1a1a1a" stroke-width="1"/>
<circle cx="984.7" cy="760.2" r="9.6" fill="#454a82" stroke="#1a1a1a" stroke-width="1"/>
<circle cx="960.3" cy="782.5" r="9.6" fill="#454a82" stroke="#1a1a1a" stroke-width="1"/>
<circle cx="935.9" cy="806.5" r="9.6" fill="#454a82" stroke="#1a1a1a" stroke-width="1"/>
<circle cx="887.1" cy="845.2" r="9.6" fill="#454a82" stroke="#1a1a1a" stroke-width="1"/>
<circle cx="862.7" cy="874.9" r="9.6" fill="#454a82" stroke="#1a1a1a" stroke-width="1"/>
<circle cx="1155.5" cy="658.8" r="9.6" fill="#423070" stroke="#1a1a1a" stroke-width="1"/>
<circle cx="1131.1" cy="670.6" r="9.6" fill="#423070" stroke="#1a1a1a" stroke-width="1"/>
<circle cx="1082.3" cy="696.1" r="9.6" fill="#423070" stroke="#1a1a1a" stroke-width="1"/>
<circle cx="1057.9" cy="728.0" r="9.6" fill="#423070" stroke="#1a1a1a" stroke-width="1"/>
<circle cx="1033.5" cy="745.9" r="9.6" fill="#423070" stroke="#1a1a1a" stroke-width="1"/>
<circle cx="984.7" cy="765.2" r="9.6" fill="#423070" stroke="#1a1a1a" stroke-width="1"/>
<circle cx="960.3" cy="792.1" r="9.6" fill="#423070" stroke="#1a1a1a" stroke-width="1"/>
<circle cx="935.9" cy="835.5" r="9.6" fill="#423070" stroke="#1a1a1a" stroke-width="1"/>
<circle cx="887.1" cy="839.1" r="9.6" fill="#423070" stroke="#1a1a1a" stroke-width="1"/>
<circle cx="862.7" cy="878.2" r="9.6" fill="#423070" stroke="#1a1a1a" stroke-width="1"/>
<circle cx="1155.5" cy="687.8" r="9.6" fill="#3d1e57" stroke="#1a1a1a" stroke-width="1"/>
<circle cx="1131.1" cy="714.3" r="9.6" fill="#3d1e57" stroke="#1a1a1a" stroke-width="1"/>
<circle cx="1082.3" cy="708.2" r="9.6" fill="#3d1e57" stroke="#1a1a1a" stroke-width="1"/>
<circle cx="1057.9" cy="736.6" r="9.6" fill="#3d1e57" stroke="#1a1a1a" stroke-width="1"/>
<circle cx="1033.5" cy="749.1" r="9.6" fill="#3d1e57" stroke="#1a1a1a" stroke-width="1"/>
<circle cx="984.7" cy="783.9" r="9.6" fill="#3d1e57" stroke="#1a1a1a" stroke-width="1"/>
<circle cx="960.3" cy="806.1" r="9.6" fill="#3d1e57" stroke="#1a1a1a" stroke-width="1"/>
<circle cx="935.9" cy="828.7" r="9.6" fill="#3d1e57" stroke="#1a1a1a" stroke-width="1"/>
<circle cx="887.1" cy="861.7" r="9.6" fill="#3d1e57" stroke="#1a1a1a" stroke-width="1"/>
<circle cx="862.7" cy="885.3" r="9.6" fill="#3d1e57" stroke="#1a1a1a" stroke-width="1"/>
<line x1="862.7" y1="886.8" x2="862.7" y2="846.6" stroke="#d4202a" stroke-width="2.6"/>
<line x1="853.7" y1="886.8" x2="871.7" y2="886.8" stroke="#d4202a" stroke-width="2.6"/>
<line x1="853.7" y1="846.6" x2="871.7" y2="846.6" stroke="#d4202a" stroke-width="2.6"/>
<line x1="984.7" y1="749.8" x2="984.7" y2="710.8" stroke="#d4202a" stroke-width="2.6"/>
<line x1="975.7" y1="749.8" x2="993.7" y2="749.8" stroke="#d4202a" stroke-width="2.6"/>
<line x1="975.7" y1="710.8" x2="993.7" y2="710.8" stroke="#d4202a" stroke-width="2.6"/>
<line x1="1155.5" y1="608.9" x2="1155.5" y2="569.1" stroke="#d4202a" stroke-width="2.6"/>
<line x1="1146.5" y1="608.9" x2="1164.5" y2="608.9" stroke="#d4202a" stroke-width="2.6"/>
<line x1="1146.5" y1="569.1" x2="1164.5" y2="569.1" stroke="#d4202a" stroke-width="2.6"/>
<polyline points="862.7,882.1 870.2,875.3 877.7,868.8 885.2,862.4 892.7,856.1 900.2,850.1 907.7,844.1 915.3,838.3 922.8,832.6 930.3,827.0 937.8,821.4 945.3,816.0 952.8,810.7 960.3,805.4 967.8,800.3 975.3,795.2 982.8,790.1 990.3,785.1 997.8,780.2 1005.3,775.4 1012.9,770.6 1020.4,765.8 1027.9,761.1 1035.4,756.5 1042.9,751.9 1050.4,747.3 1057.9,742.8 1065.4,738.3 1072.9,733.9 1080.4,729.5 1087.9,725.2 1095.4,720.8 1102.9,716.6 1110.5,712.3 1118.0,708.1 1125.5,703.9 1133.0,699.7 1140.5,695.6 1148.0,691.5 1155.5,687.4" fill="none" stroke="#3f1f5b" stroke-width="4.6"/>
<polyline points="862.7,865.8 870.2,856.7 877.7,847.8 885.2,839.0 892.7,830.4 900.2,822.0 907.7,813.7 915.3,805.5 922.8,797.4 930.3,789.4 937.8,781.5 945.3,773.7 952.8,766.0 960.3,758.4 967.8,750.9 975.3,743.4 982.8,736.0 990.3,728.7 997.8,721.4 1005.3,714.2 1012.9,707.0 1020.4,699.9 1027.9,692.8 1035.4,685.8 1042.9,678.9 1050.4,672.0 1057.9,665.1 1065.4,658.3 1072.9,651.6 1080.4,644.8 1087.9,638.1 1095.4,631.5 1102.9,624.9 1110.5,618.3 1118.0,611.7 1125.5,605.2 1133.0,598.8 1140.5,592.3 1148.0,585.9 1155.5,579.5" fill="none" stroke="#efe03a" stroke-width="4.6"/>
<polyline points="810.5,919.8 832.7,886.8 874.4,840.9 952.0,775.6 1022.0,728.7" fill="none" stroke="#7fbd5f" stroke-width="4.6"/>
<polygon points="810.5,909.9 820.3,929.7 800.6,929.7" fill="#7fbd5f" stroke="#222" stroke-width="1"/>
<polygon points="832.7,876.9 842.5,896.7 822.8,896.7" fill="#7fbd5f" stroke="#222" stroke-width="1"/>
<polygon points="874.4,831.0 884.3,850.8 864.6,850.8" fill="#7fbd5f" stroke="#222" stroke-width="1"/>
<polygon points="952.0,765.7 961.9,785.5 942.2,785.5" fill="#7fbd5f" stroke="#222" stroke-width="1"/>
<polygon points="1022.0,718.8 1031.9,738.6 1012.2,738.6" fill="#7fbd5f" stroke="#222" stroke-width="1"/>
<text transform="translate(1114.0,926.9) scale(1.050,1)" font-size="44">(d)</text>
<text transform="translate(673.0,731.5) rotate(-90) scale(1.120,1)" font-size="32.5" text-anchor="middle"><tspan font-style="italic">ϵ</tspan><tspan font-style="italic" font-size="23" dy="6">pmax</tspan><tspan dy="-6"> (MeV)</tspan></text>
<text transform="translate(960.0,1007.0)" font-size="32.5" text-anchor="middle"><tspan font-style="italic">E</tspan><tspan font-style="italic" font-size="23" dy="6">L</tspan><tspan dy="-6"> (J)</tspan></text>
<line x1="743" y1="537" x2="771.8" y2="537" stroke="#3f1f5b" stroke-width="4.6"/>
<line x1="743" y1="578.5" x2="771.8" y2="578.5" stroke="#efe03a" stroke-width="4.6"/>
<line x1="743" y1="620" x2="771.8" y2="620" stroke="#7fbd5f" stroke-width="4.6"/>
<polygon points="757.4,612.3 765.0,627.7 749.8,627.7" fill="#7fbd5f" stroke="#222" stroke-width="1"/>
<text x="789.3" y="545.0" font-size="26" textLength="12.2" lengthAdjust="spacingAndGlyphs">τ</text>
<text x="802.3" y="550.0" font-size="18" textLength="9.7" lengthAdjust="spacingAndGlyphs" font-style="italic">L</text>
<text x="815.5" y="545.0" font-size="26" textLength="99.0" lengthAdjust="spacingAndGlyphs">=100 fs:</text>
<text x="922.3" y="545.0" font-size="26" textLength="11.7" lengthAdjust="spacingAndGlyphs" font-style="italic">ϵ</text>
<text x="935.2" y="550.0" font-size="18" textLength="49.9" lengthAdjust="spacingAndGlyphs" font-style="italic">pmax</text>
<path d="M1007.5,533.6 C1003.9,533.6 1001.7,541.7 998.3,541.7 C996.0,541.7 995.1,539.6 995.1,537.6 C995.1,535.7 996.0,533.6 998.3,533.6 C1001.7,533.6 1003.9,541.7 1007.5,541.7" fill="none" stroke="#000" stroke-width="1.8"/>
<text x="1016.5" y="545.0" font-size="26" font-style="italic" style="font-family:Liberation Serif,serif">I</text>
<text x="1024.5" y="549.0" font-size="18" textLength="8.0" lengthAdjust="spacingAndGlyphs" font-style="italic">L</text>
<text x="1035.2" y="535.5" font-size="17.5" textLength="35.7" lengthAdjust="spacingAndGlyphs">0.67</text>
<text x="789.3" y="584.2" font-size="26" textLength="12.2" lengthAdjust="spacingAndGlyphs">τ</text>
<text x="802.3" y="589.2" font-size="18" textLength="9.7" lengthAdjust="spacingAndGlyphs" font-style="italic">L</text>
<text x="815.5" y="584.2" font-size="26" textLength="85.0" lengthAdjust="spacingAndGlyphs">=25 fs:</text>
<text x="907.0" y="584.2" font-size="26" textLength="11.6" lengthAdjust="spacingAndGlyphs" font-style="italic">ϵ</text>
<text x="920.0" y="589.2" font-size="18" textLength="50.0" lengthAdjust="spacingAndGlyphs" font-style="italic">pmax</text>
<path d="M991.8,572.8 C988.2,572.8 986.0,580.9 982.6,580.9 C980.3,580.9 979.4,578.8 979.4,576.9 C979.4,574.9 980.3,572.8 982.6,572.8 C986.0,572.8 988.2,580.9 991.8,580.9" fill="none" stroke="#000" stroke-width="1.8"/>
<text x="1001.0" y="584.2" font-size="26" font-style="italic" style="font-family:Liberation Serif,serif">I</text>
<text x="1009.0" y="588.2" font-size="18" textLength="8.0" lengthAdjust="spacingAndGlyphs" font-style="italic">L</text>
<text x="1019.7" y="574.7" font-size="17.5" textLength="33.3" lengthAdjust="spacingAndGlyphs">0.77</text>
<text x="789.8" y="627.0" font-size="26" textLength="69.7" lengthAdjust="spacingAndGlyphs">Dover</text>
<text x="868.8" y="627.0" font-size="26" textLength="52.6" lengthAdjust="spacingAndGlyphs" font-style="italic">et al.</text>
<text x="932.0" y="627.0" font-size="26" textLength="11.5" lengthAdjust="spacingAndGlyphs" font-style="italic">ϵ</text>
<text x="945.0" y="632.0" font-size="18" textLength="48.4" lengthAdjust="spacingAndGlyphs" font-style="italic">pmax</text>
<path d="M1016.3,615.6 C1012.7,615.6 1010.5,623.7 1007.1,623.7 C1004.8,623.7 1003.9,621.6 1003.9,619.6 C1003.9,617.7 1004.8,615.6 1007.1,615.6 C1010.5,615.6 1012.7,623.7 1016.3,623.7" fill="none" stroke="#000" stroke-width="1.8"/>
<text x="1026.0" y="627.0" font-size="26" font-style="italic" style="font-family:Liberation Serif,serif">I</text>
<text x="1034.0" y="631.0" font-size="18" textLength="8.0" lengthAdjust="spacingAndGlyphs" font-style="italic">L</text>
<text x="1039.0" y="617.5" font-size="17.5" textLength="33.3" lengthAdjust="spacingAndGlyphs">0.58</text>
</svg></body></html>
